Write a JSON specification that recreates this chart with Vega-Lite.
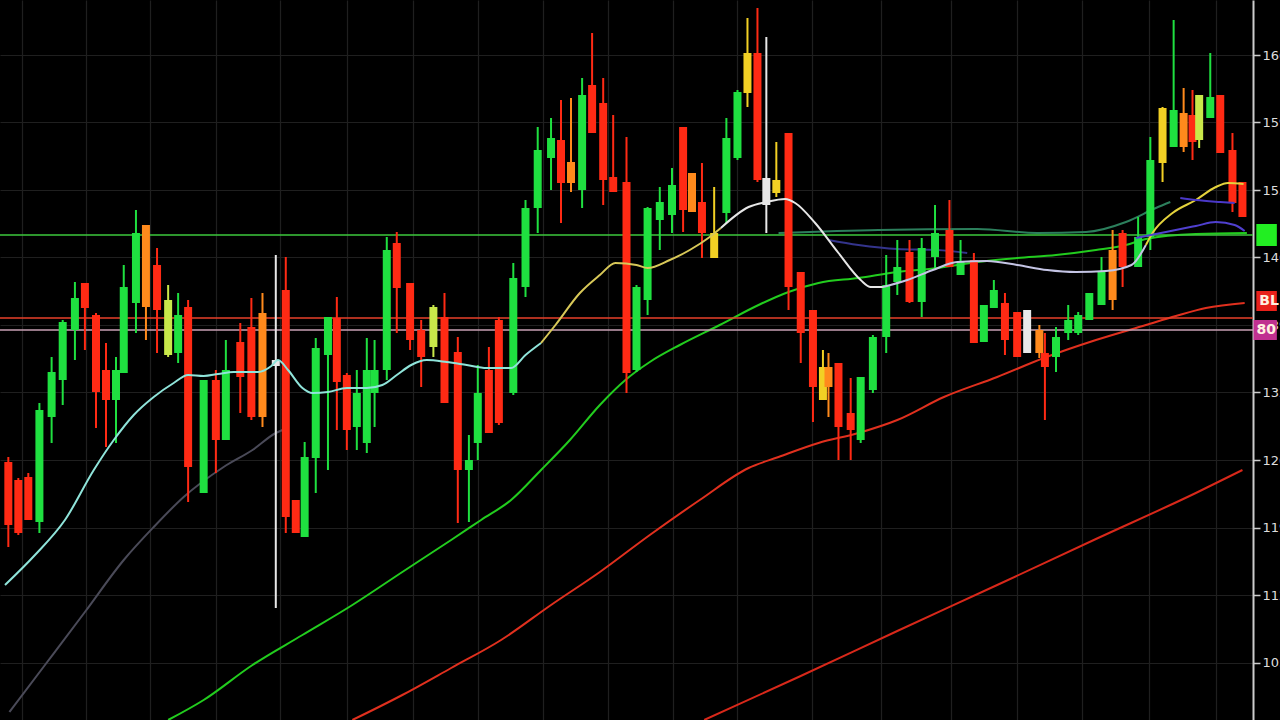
{
  "$schema": "https://vega.github.io/schema/vega-lite/v6.json",
  "width": 1253,
  "height": 720,
  "autosize": {"type": "none"},
  "padding": {"left": 0, "top": 0, "right": 27, "bottom": 0},
  "background": "#000000",
  "config": {
    "view": {"stroke": null},
    "font": "DejaVu Sans",
    "axisX": {"orient": "bottom", "labels": false, "ticks": false, "domain": false, "grid": true, "gridColor": "#1f1f1f", "gridWidth": 1.2, "title": null},
    "axisY": {"orient": "right", "grid": true, "gridColor": "#1f1f1f", "gridWidth": 1.2, "labelColor": "#dddddd", "labelFontSize": 13, "labelPadding": 2, "tickColor": "#cccccc", "tickSize": 7, "tickWidth": 1.5, "domainColor": "#cccccc", "domainWidth": 2, "title": null}
  },
  "resolve": {"scale": {"color": "independent"}},
  "datasets": {
    "candles": [
      {"t":0.3,"o":125.8,"h":126.3,"l":117.3,"c":119.5,"k":"dn"},
      {"t":1.2,"o":124.0,"h":124.2,"l":118.5,"c":118.7,"k":"dn"},
      {"t":2.1,"o":124.3,"h":124.7,"l":120.0,"c":120.0,"k":"dn"},
      {"t":3.1,"o":119.8,"h":131.7,"l":118.7,"c":131.0,"k":"up"},
      {"t":4.2,"o":130.3,"h":136.3,"l":127.7,"c":134.8,"k":"up"},
      {"t":5.2,"o":134.0,"h":140.0,"l":131.5,"c":139.8,"k":"up"},
      {"t":6.3,"o":139.0,"h":143.8,"l":136.0,"c":142.2,"k":"up"},
      {"t":7.2,"o":143.7,"h":143.7,"l":137.0,"c":141.2,"k":"dn"},
      {"t":8.2,"o":140.5,"h":140.7,"l":129.2,"c":132.8,"k":"dn"},
      {"t":9.1,"o":135.0,"h":137.7,"l":127.3,"c":132.0,"k":"dn"},
      {"t":10.0,"o":132.0,"h":136.3,"l":127.7,"c":135.0,"k":"up"},
      {"t":10.7,"o":134.7,"h":145.5,"l":134.7,"c":143.3,"k":"up"},
      {"t":11.8,"o":141.7,"h":151.0,"l":138.7,"c":148.7,"k":"up"},
      {"t":12.7,"o":149.5,"h":149.5,"l":138.0,"c":141.3,"k":"or"},
      {"t":13.7,"o":145.5,"h":147.2,"l":136.7,"c":141.0,"k":"dn"},
      {"t":14.7,"o":136.5,"h":143.5,"l":136.3,"c":142.0,"k":"yg"},
      {"t":15.6,"o":136.7,"h":142.7,"l":135.7,"c":140.5,"k":"up"},
      {"t":16.5,"o":141.3,"h":142.0,"l":121.8,"c":125.3,"k":"dn"},
      {"t":17.9,"o":122.7,"h":134.0,"l":122.7,"c":134.0,"k":"up"},
      {"t":19.0,"o":134.0,"h":135.0,"l":124.7,"c":128.0,"k":"dn"},
      {"t":19.9,"o":128.0,"h":138.0,"l":128.0,"c":135.0,"k":"up"},
      {"t":21.2,"o":137.8,"h":139.7,"l":130.7,"c":134.3,"k":"dn"},
      {"t":22.2,"o":139.3,"h":142.2,"l":130.0,"c":130.3,"k":"dn"},
      {"t":23.2,"o":140.7,"h":142.7,"l":129.3,"c":130.3,"k":"or"},
      {"t":24.4,"o":136.0,"h":146.5,"l":111.2,"c":135.4,"k":"wh"},
      {"t":25.3,"o":143.0,"h":146.3,"l":118.7,"c":120.3,"k":"dn"},
      {"t":26.2,"o":122.0,"h":122.0,"l":118.7,"c":118.7,"k":"dn"},
      {"t":27.0,"o":118.3,"h":127.8,"l":118.3,"c":126.3,"k":"up"},
      {"t":28.0,"o":126.2,"h":138.2,"l":122.7,"c":137.2,"k":"up"},
      {"t":29.1,"o":136.5,"h":140.3,"l":125.0,"c":140.3,"k":"up"},
      {"t":29.9,"o":140.2,"h":142.3,"l":129.0,"c":133.8,"k":"dn"},
      {"t":30.8,"o":134.5,"h":134.7,"l":127.0,"c":129.0,"k":"dn"},
      {"t":31.7,"o":129.3,"h":135.0,"l":127.0,"c":132.7,"k":"up"},
      {"t":32.6,"o":127.7,"h":138.2,"l":126.7,"c":135.0,"k":"up"},
      {"t":33.3,"o":132.7,"h":138.0,"l":129.3,"c":135.0,"k":"up"},
      {"t":34.4,"o":135.0,"h":148.3,"l":134.0,"c":147.0,"k":"up"},
      {"t":35.3,"o":147.7,"h":148.8,"l":138.7,"c":143.2,"k":"dn"},
      {"t":36.5,"o":143.7,"h":143.7,"l":137.0,"c":138.0,"k":"dn"},
      {"t":37.5,"o":139.0,"h":140.0,"l":133.3,"c":136.3,"k":"dn"},
      {"t":38.6,"o":137.3,"h":141.5,"l":136.3,"c":141.3,"k":"yg"},
      {"t":39.6,"o":140.3,"h":142.7,"l":131.7,"c":131.7,"k":"dn"},
      {"t":40.8,"o":136.8,"h":138.3,"l":119.7,"c":125.0,"k":"dn"},
      {"t":41.8,"o":125.0,"h":128.5,"l":119.8,"c":126.0,"k":"up"},
      {"t":42.6,"o":127.7,"h":135.5,"l":126.0,"c":132.7,"k":"up"},
      {"t":43.6,"o":135.0,"h":137.3,"l":128.7,"c":128.7,"k":"dn"},
      {"t":44.5,"o":140.0,"h":140.3,"l":129.5,"c":129.7,"k":"dn"},
      {"t":45.8,"o":132.7,"h":145.7,"l":132.5,"c":144.2,"k":"up"},
      {"t":46.9,"o":143.3,"h":152.0,"l":142.3,"c":151.2,"k":"up"},
      {"t":48.0,"o":151.2,"h":159.3,"l":148.7,"c":157.0,"k":"up"},
      {"t":49.2,"o":156.2,"h":160.2,"l":153.0,"c":158.2,"k":"up"},
      {"t":50.1,"o":158.0,"h":162.0,"l":149.7,"c":153.7,"k":"dn"},
      {"t":51.0,"o":155.8,"h":162.2,"l":152.8,"c":153.7,"k":"or"},
      {"t":52.0,"o":153.0,"h":164.2,"l":151.2,"c":162.5,"k":"up"},
      {"t":52.9,"o":163.5,"h":168.7,"l":158.7,"c":158.7,"k":"dn"},
      {"t":53.9,"o":161.7,"h":164.2,"l":151.5,"c":154.0,"k":"dn"},
      {"t":54.8,"o":154.3,"h":160.5,"l":152.8,"c":152.8,"k":"dn"},
      {"t":56.0,"o":153.8,"h":158.3,"l":132.7,"c":134.7,"k":"dn"},
      {"t":56.9,"o":135.0,"h":143.5,"l":134.8,"c":143.3,"k":"up"},
      {"t":57.9,"o":142.0,"h":151.3,"l":140.5,"c":151.2,"k":"up"},
      {"t":59.0,"o":150.0,"h":153.3,"l":147.0,"c":151.8,"k":"up"},
      {"t":60.1,"o":150.5,"h":155.2,"l":148.7,"c":153.5,"k":"up"},
      {"t":61.1,"o":159.3,"h":159.3,"l":148.8,"c":151.0,"k":"dn"},
      {"t":61.9,"o":154.7,"h":154.7,"l":150.8,"c":150.8,"k":"or"},
      {"t":62.8,"o":151.8,"h":155.7,"l":146.2,"c":148.7,"k":"dn"},
      {"t":63.9,"o":148.7,"h":153.3,"l":146.2,"c":146.2,"k":"ye"},
      {"t":65.0,"o":150.7,"h":160.2,"l":149.7,"c":158.2,"k":"up"},
      {"t":66.0,"o":156.2,"h":163.0,"l":156.0,"c":162.8,"k":"up"},
      {"t":66.9,"o":166.7,"h":170.2,"l":161.3,"c":162.7,"k":"ye"},
      {"t":67.8,"o":166.7,"h":171.2,"l":153.8,"c":154.0,"k":"dn"},
      {"t":68.6,"o":154.2,"h":168.3,"l":148.7,"c":151.5,"k":"wh"},
      {"t":69.5,"o":154.0,"h":157.8,"l":152.3,"c":152.7,"k":"ye"},
      {"t":70.6,"o":158.7,"h":158.7,"l":141.0,"c":143.3,"k":"dn"},
      {"t":71.7,"o":144.8,"h":144.8,"l":135.7,"c":138.7,"k":"dn"},
      {"t":72.8,"o":141.0,"h":141.0,"l":129.8,"c":133.3,"k":"dn"},
      {"t":73.7,"o":135.3,"h":137.0,"l":132.0,"c":132.0,"k":"ye"},
      {"t":74.2,"o":135.3,"h":136.7,"l":130.3,"c":133.3,"k":"or"},
      {"t":75.1,"o":135.7,"h":135.7,"l":126.0,"c":129.3,"k":"dn"},
      {"t":76.2,"o":130.7,"h":134.2,"l":126.0,"c":129.0,"k":"dn"},
      {"t":77.1,"o":128.0,"h":134.3,"l":127.7,"c":134.3,"k":"up"},
      {"t":78.2,"o":133.0,"h":138.5,"l":132.7,"c":138.3,"k":"up"},
      {"t":79.4,"o":138.3,"h":146.5,"l":136.7,"c":143.5,"k":"up"},
      {"t":80.4,"o":143.8,"h":148.0,"l":142.5,"c":145.3,"k":"up"},
      {"t":81.5,"o":146.8,"h":148.0,"l":141.7,"c":141.8,"k":"dn"},
      {"t":82.6,"o":141.8,"h":148.2,"l":140.3,"c":147.2,"k":"up"},
      {"t":83.8,"o":146.3,"h":151.5,"l":145.2,"c":148.7,"k":"up"},
      {"t":85.1,"o":149.0,"h":152.0,"l":145.3,"c":145.3,"k":"dn"},
      {"t":86.1,"o":144.5,"h":148.0,"l":144.5,"c":145.8,"k":"up"},
      {"t":87.3,"o":146.0,"h":146.7,"l":137.7,"c":137.7,"k":"dn"},
      {"t":88.2,"o":137.8,"h":141.5,"l":137.8,"c":141.5,"k":"up"},
      {"t":89.1,"o":141.2,"h":144.0,"l":141.2,"c":143.0,"k":"up"},
      {"t":90.1,"o":141.7,"h":142.7,"l":136.5,"c":138.0,"k":"dn"},
      {"t":91.2,"o":140.8,"h":140.8,"l":136.3,"c":136.3,"k":"dn"},
      {"t":92.1,"o":141.0,"h":141.0,"l":136.7,"c":136.7,"k":"wh"},
      {"t":93.2,"o":139.0,"h":139.5,"l":136.2,"c":136.7,"k":"or"},
      {"t":93.7,"o":136.7,"h":138.7,"l":130.0,"c":135.3,"k":"dn"},
      {"t":94.7,"o":136.3,"h":139.3,"l":134.8,"c":138.3,"k":"up"},
      {"t":95.8,"o":138.7,"h":141.5,"l":138.0,"c":140.0,"k":"up"},
      {"t":96.7,"o":138.7,"h":140.8,"l":138.5,"c":140.5,"k":"up"},
      {"t":97.7,"o":140.0,"h":142.7,"l":140.0,"c":142.7,"k":"up"},
      {"t":98.8,"o":141.5,"h":146.3,"l":141.5,"c":144.8,"k":"up"},
      {"t":99.8,"o":147.0,"h":149.0,"l":141.0,"c":142.0,"k":"or"},
      {"t":100.7,"o":148.7,"h":149.0,"l":143.3,"c":145.3,"k":"dn"},
      {"t":102.1,"o":145.3,"h":150.3,"l":145.3,"c":148.3,"k":"up"},
      {"t":103.2,"o":148.3,"h":158.3,"l":147.0,"c":156.0,"k":"up"},
      {"t":104.3,"o":155.7,"h":161.3,"l":153.8,"c":161.2,"k":"ye"},
      {"t":105.3,"o":157.3,"h":170.0,"l":157.3,"c":161.0,"k":"up"},
      {"t":106.2,"o":160.7,"h":163.2,"l":156.8,"c":157.3,"k":"or"},
      {"t":107.0,"o":160.5,"h":163.0,"l":156.0,"c":157.8,"k":"dn"},
      {"t":107.6,"o":158.0,"h":162.5,"l":157.2,"c":162.5,"k":"yg"},
      {"t":108.6,"o":160.2,"h":166.7,"l":160.2,"c":162.3,"k":"up"},
      {"t":109.5,"o":162.5,"h":162.5,"l":156.7,"c":156.7,"k":"dn"},
      {"t":110.6,"o":157.0,"h":158.7,"l":150.8,"c":151.7,"k":"dn"},
      {"t":111.5,"o":153.8,"h":153.8,"l":150.3,"c":150.3,"k":"dn"}
    ],
    "lines": [
      {"s":"a","t":0,"p":113.5},{"s":"a","t":2.7,"p":116.5},{"s":"a","t":5.4,"p":120.0},{"s":"a","t":8.0,"p":125.0},{"s":"a","t":9.8,"p":128.0},{"s":"a","t":11.6,"p":130.5},{"s":"a","t":13.4,"p":132.3},{"s":"a","t":15.2,"p":133.7},{"s":"a","t":16.5,"p":134.5},{"s":"a","t":17.9,"p":134.4},{"s":"a","t":19.2,"p":134.6},{"s":"a","t":20.6,"p":134.8},{"s":"a","t":22.8,"p":134.8},{"s":"a","t":24.0,"p":135.4},{"s":"a","t":24.6,"p":136.0},{"s":"a","t":25.5,"p":135.0},{"s":"a","t":26.8,"p":133.2},{"s":"a","t":27.7,"p":132.7},{"s":"a","t":29.1,"p":132.8},{"s":"a","t":30.8,"p":133.2},{"s":"a","t":32.6,"p":133.2},{"s":"a","t":34.0,"p":133.5},{"s":"a","t":35.3,"p":134.5},{"s":"a","t":36.6,"p":135.5},{"s":"a","t":38.0,"p":136.0},{"s":"a","t":39.8,"p":135.8},{"s":"a","t":41.6,"p":135.5},{"s":"a","t":43.4,"p":135.2},{"s":"a","t":45.6,"p":135.2},{"s":"a","t":46.9,"p":136.5},{"s":"a","t":48.3,"p":137.7},
      {"s":"b","t":48.3,"p":137.7},{"s":"b","t":49.6,"p":139.5},{"s":"b","t":51.8,"p":142.7},{"s":"b","t":53.6,"p":144.5},{"s":"b","t":55.0,"p":145.7},{"s":"b","t":56.9,"p":145.5},{"s":"b","t":57.9,"p":145.2},{"s":"b","t":59.9,"p":146.0},{"s":"b","t":61.7,"p":147.0},{"s":"b","t":63.5,"p":148.3},{"s":"b","t":64.5,"p":149.2},
      {"s":"c","t":64.5,"p":149.2},{"s":"c","t":67.0,"p":151.3},{"s":"c","t":68.6,"p":151.8},{"s":"c","t":70.3,"p":152.1},{"s":"c","t":71.2,"p":151.7},{"s":"c","t":73.0,"p":149.7},{"s":"c","t":75.1,"p":146.7},{"s":"c","t":77.1,"p":144.0},{"s":"c","t":78.0,"p":143.3},{"s":"c","t":79.1,"p":143.3},
      {"s":"d","t":79.1,"p":143.3},{"s":"d","t":81.3,"p":144.0},{"s":"d","t":83.6,"p":145.0},{"s":"d","t":85.8,"p":145.8},{"s":"d","t":88.5,"p":145.9},{"s":"d","t":91.2,"p":145.5},{"s":"d","t":93.9,"p":145.0},{"s":"d","t":96.5,"p":144.8},{"s":"d","t":99.2,"p":144.9},{"s":"d","t":101.5,"p":145.5},{"s":"d","t":102.8,"p":147.5},
      {"s":"e","t":102.8,"p":147.5},{"s":"e","t":103.4,"p":148.7},{"s":"e","t":105.2,"p":150.7},{"s":"e","t":107.3,"p":152.0},{"s":"e","t":109.1,"p":153.3},{"s":"e","t":110.2,"p":153.7},{"s":"e","t":111.6,"p":153.6},
      {"s":"green","t":14.7,"p":100.0},{"s":"green","t":17.9,"p":102.0},{"s":"green","t":22.3,"p":105.5},{"s":"green","t":26.8,"p":108.5},{"s":"green","t":31.3,"p":111.5},{"s":"green","t":35.8,"p":114.8},{"s":"green","t":40.2,"p":118.0},{"s":"green","t":42.9,"p":120.0},{"s":"green","t":45.6,"p":122.0},{"s":"green","t":48.3,"p":125.0},{"s":"green","t":50.9,"p":128.0},{"s":"green","t":53.6,"p":131.5},{"s":"green","t":55.9,"p":134.0},{"s":"green","t":58.1,"p":135.8},{"s":"green","t":60.8,"p":137.5},{"s":"green","t":64.4,"p":139.5},{"s":"green","t":67.9,"p":141.5},{"s":"green","t":70.6,"p":142.8},{"s":"green","t":73.3,"p":143.7},{"s":"green","t":76.9,"p":144.2},{"s":"green","t":80.4,"p":144.8},{"s":"green","t":84.0,"p":145.2},{"s":"green","t":87.6,"p":145.8},{"s":"green","t":91.2,"p":146.2},{"s":"green","t":94.7,"p":146.5},{"s":"green","t":98.3,"p":147.0},{"s":"green","t":101.0,"p":147.5},{"s":"green","t":102.8,"p":148.1},{"s":"green","t":107.3,"p":148.6},{"s":"green","t":111.9,"p":148.7},
      {"s":"red","t":31.3,"p":100.0},{"s":"red","t":35.8,"p":102.5},{"s":"red","t":40.2,"p":105.2},{"s":"red","t":44.7,"p":108.0},{"s":"red","t":49.2,"p":111.5},{"s":"red","t":53.6,"p":114.8},{"s":"red","t":58.1,"p":118.5},{"s":"red","t":62.6,"p":122.0},{"s":"red","t":67.0,"p":125.2},{"s":"red","t":69.7,"p":126.3},{"s":"red","t":73.3,"p":127.7},{"s":"red","t":76.9,"p":128.7},{"s":"red","t":80.4,"p":130.0},{"s":"red","t":84.6,"p":132.3},{"s":"red","t":89.4,"p":134.3},{"s":"red","t":93.6,"p":136.2},{"s":"red","t":98.3,"p":138.0},{"s":"red","t":102.8,"p":139.5},{"s":"red","t":105.5,"p":140.4},{"s":"red","t":108.2,"p":141.2},{"s":"red","t":111.7,"p":141.7},
      {"s":"red2","t":63.0,"p":100.0},{"s":"red2","t":71.5,"p":104.3},{"s":"red2","t":80.4,"p":108.9},{"s":"red2","t":89.4,"p":113.5},{"s":"red2","t":98.3,"p":118.1},{"s":"red2","t":107.3,"p":122.7},{"s":"red2","t":111.5,"p":125.0},
      {"s":"gray","t":0.4,"p":100.8},{"s":"gray","t":3.6,"p":105.5},{"s":"gray","t":7.2,"p":110.8},{"s":"gray","t":10.7,"p":116.0},{"s":"gray","t":13.4,"p":119.3},{"s":"gray","t":16.1,"p":122.3},{"s":"gray","t":19.7,"p":125.3},{"s":"gray","t":22.3,"p":127.0},{"s":"gray","t":24.4,"p":128.7},{"s":"gray","t":25.0,"p":129.0},
      {"s":"navy","t":74.2,"p":148.0},{"s":"navy","t":76.9,"p":147.5},{"s":"navy","t":80.4,"p":147.1},{"s":"navy","t":84.0,"p":147.0},{"s":"navy","t":86.7,"p":146.7},
      {"s":"blue1","t":105.9,"p":152.2},{"s":"blue1","t":107.3,"p":152.0},{"s":"blue1","t":109.5,"p":151.8},{"s":"blue1","t":110.8,"p":151.7},
      {"s":"blue2","t":101.9,"p":148.2},{"s":"blue2","t":104.6,"p":148.8},{"s":"blue2","t":107.3,"p":149.4},{"s":"blue2","t":109.1,"p":149.8},{"s":"blue2","t":110.8,"p":149.5},{"s":"blue2","t":111.7,"p":148.9},
      {"s":"teal","t":69.7,"p":148.7},{"s":"teal","t":78.7,"p":149.0},{"s":"teal","t":87.6,"p":149.1},{"s":"teal","t":93.0,"p":148.7},{"s":"teal","t":97.4,"p":148.8},{"s":"teal","t":101.0,"p":149.8},{"s":"teal","t":103.7,"p":151.2},{"s":"teal","t":105.0,"p":151.8}
    ],
    "hlines": [
      {"p":148.5,"n":"support"},
      {"p":140.2,"n":"resistance"},
      {"p":139.0,"n":"pivot"}
    ],
    "tags": [
      {"n":"support","t1":112.75,"t2":114.6,"p1":147.4,"p2":149.6,"lab":""},
      {"n":"resistance","t1":112.75,"t2":114.6,"p1":140.9,"p2":142.9,"lab":"BL"},
      {"n":"pivot","t1":112.5,"t2":114.6,"p1":138.0,"p2":140.0,"lab":"80"}
    ]
  },
  "encoding": {
    "x": {"type": "quantitative", "scale": {"domain": [0, 112], "nice": false, "zero": false},
          "axis": {"values": [1.5, 7.3, 13.1, 19.0, 24.8, 30.8, 36.8, 42.6, 48.5, 54.3, 60.2, 66.0, 72.7, 78.9, 85.2, 91.2, 97.0, 103.1, 109.1]}},
    "y": {"type": "quantitative", "scale": {"domain": [100, 172], "nice": false, "zero": false},
          "axis": {"values": [166.5, 159.75, 153, 146.25, 139.5, 132.75, 126, 119.25, 112.5, 105.75], "format": ".2f"}}
  },
  "layer": [
    {
      "data": {"name": "lines"},
      "transform": [{"filter": "indexof(['green','red','red2','gray','navy','teal'], datum.s) >= 0"}],
      "mark": {"type": "line", "strokeWidth": 2, "interpolate": "monotone"},
      "encoding": {
        "x": {"field": "t", "type": "quantitative", "title": null},
        "y": {"field": "p", "type": "quantitative", "title": null},
        "color": {"field": "s", "type": "nominal", "legend": null,
                  "scale": {"domain": ["green", "red", "red2", "gray", "navy", "teal"],
                            "range": ["#22cc1e", "#e0301e", "#d8281a", "#4a4a58", "#34348c", "#2c7f5c"]}}
      }
    },
    {
      "data": {"name": "hlines"},
      "mark": {"type": "rule", "strokeWidth": 1.5},
      "encoding": {
        "x": null,
        "y": {"field": "p", "type": "quantitative", "title": null},
        "color": {"field": "n", "type": "nominal", "legend": null,
                  "scale": {"domain": ["support", "resistance", "pivot"], "range": ["#3cc83c", "#e8402a", "#c8a0b4"]}}
      }
    },
    {
      "data": {"name": "candles"},
      "mark": {"type": "rule", "strokeWidth": 2},
      "encoding": {
        "x": {"field": "t", "type": "quantitative", "title": null},
        "y": {"field": "l", "type": "quantitative", "title": null},
        "y2": {"field": "h"},
        "color": {"field": "k", "type": "nominal", "legend": null,
                  "scale": {"domain": ["up", "dn", "or", "ye", "yg", "wh"],
                            "range": ["#1fe040", "#ff2a14", "#ff8a1c", "#f2d024", "#c8e84a", "#e8e8e8"]}}
      }
    },
    {
      "data": {"name": "candles"},
      "mark": {"type": "bar", "size": 8},
      "encoding": {
        "x": {"field": "t", "type": "quantitative", "title": null},
        "y": {"field": "o", "type": "quantitative", "title": null},
        "y2": {"field": "c"},
        "color": {"field": "k", "type": "nominal", "legend": null,
                  "scale": {"domain": ["up", "dn", "or", "ye", "yg", "wh"],
                            "range": ["#1fe040", "#ff2a14", "#ff8a1c", "#f2d024", "#c8e84a", "#e8e8e8"]}}
      }
    },
    {
      "data": {"name": "lines"},
      "transform": [{"filter": "indexof(['a','b','c','d','e','blue1','blue2'], datum.s) >= 0"}],
      "mark": {"type": "line", "strokeWidth": 2, "interpolate": "monotone"},
      "encoding": {
        "x": {"field": "t", "type": "quantitative", "title": null},
        "y": {"field": "p", "type": "quantitative", "title": null},
        "color": {"field": "s", "type": "nominal", "legend": null,
                  "scale": {"domain": ["a", "b", "c", "d", "e", "blue1", "blue2"],
                            "range": ["#8fe4da", "#d8c858", "#e6e6e6", "#c4c4e4", "#e4d23c", "#4a38c8", "#5040d0"]}}
      }
    },
    {
      "data": {"name": "tags"},
      "mark": {"type": "rect"},
      "encoding": {
        "x": {"field": "t1", "type": "quantitative", "title": null},
        "x2": {"field": "t2"},
        "y": {"field": "p1", "type": "quantitative", "title": null},
        "y2": {"field": "p2"},
        "color": {"field": "n", "type": "nominal", "legend": null,
                  "scale": {"domain": ["support", "resistance", "pivot"], "range": ["#22ee22", "#e8201a", "#c03090"]}}
      }
    },
    {
      "data": {"name": "tags"},
      "mark": {"type": "text", "align": "left", "baseline": "middle", "fontSize": 14, "fontWeight": "bold", "color": "#fff0e0", "dx": 3},
      "encoding": {
        "x": {"field": "t1", "type": "quantitative", "title": null},
        "y": {"field": "p1", "type": "quantitative", "title": null},
        "yOffset": {"value": -10},
        "text": {"field": "lab"}
      }
    }
  ]
}
